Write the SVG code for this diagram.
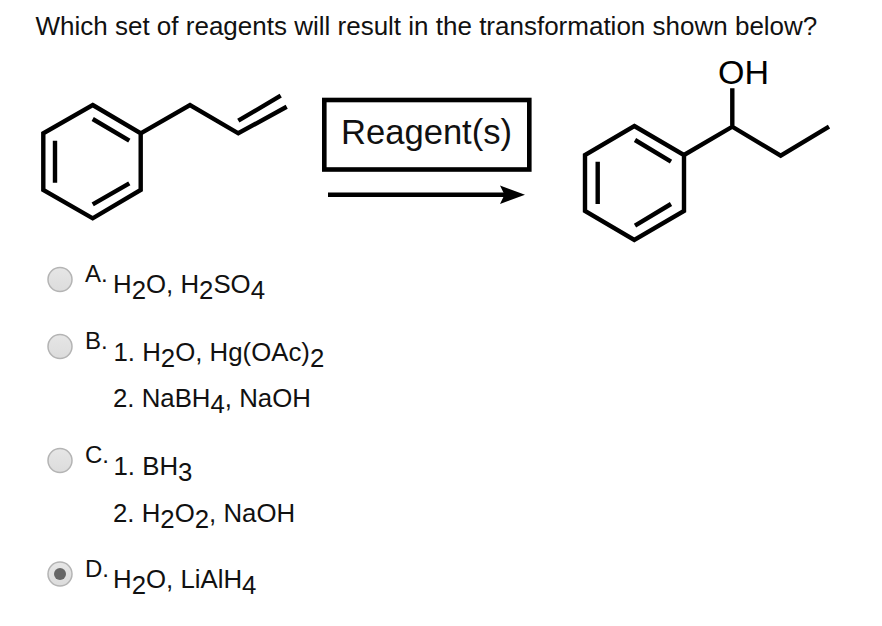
<svg xmlns="http://www.w3.org/2000/svg" width="882" height="626" viewBox="0 0 882 626">
<style>
text{font-family:"Liberation Sans",Arial,sans-serif;fill:#111}
.q{font-size:26px}
.l{font-size:24px}
.o{font-size:25.8px}
.bond{fill:none;stroke:#000;stroke-width:4.4;stroke-linejoin:miter;stroke-linecap:butt}
.radio{fill:url(#rg);stroke:#b4b4b4;stroke-width:1.5}
.mol{font-size:34px;fill:#000}
</style>
<defs>
<linearGradient id="rg" x1="0" y1="0" x2="0" y2="1"><stop offset="0" stop-color="#e6e6e6"/><stop offset="1" stop-color="#dcdcdc"/></linearGradient>
</defs>
<rect width="882" height="626" fill="#fff"/>
<text id="question" class="q" x="35.5" y="35">Which set of reagents will result in the transformation shown below?</text>
<g id="reactant">
<path class="bond" d="M92.7 105L140.7 133.3V190L92.7 218.3L43.3 190V133.3Z"/>
<path class="bond" d="M92.7 119L129.3 140.7M55 140.7V182.7M92.7 204.3L129.3 183.3"/>
<path class="bond" d="M140.7 133.3L190 105L238.3 133.3L286.7 106.7M238.3 120.7L280.7 95.7"/>
</g>
<g id="reagent-box">
<rect x="324.3" y="100" width="205" height="69.5" fill="#fff" stroke="#000" stroke-width="4.6"/>
<text x="341" y="143.5" style="font-size:34.6px">Reagent(s)</text>
</g>
<g id="connectors">
<path d="M328 194.7H505" fill="none" stroke="#000" stroke-width="4.4"/>
<path d="M500 185.5L525 194.7L500 204L504.5 194.7Z" fill="#000"/>
</g>
<g id="product">
<path class="bond" d="M634.3 126L684 155V211L634.3 240L585 211V155Z"/>
<path class="bond" d="M635 140L671 161.7M597.7 161.7V204M635 225.7L671 204"/>
<path class="bond" d="M684 155L732.3 126.7L780.7 155.7L829 126.7M732.3 126.7V88.3"/>
<text class="mol" x="718" y="84">OH</text>
</g>
<g id="option-a">
<circle class="radio" cx="60" cy="279.5" r="12"/>
<text class="l" x="85" y="282">A.</text>
<text class="o" x="113" y="293">H<tspan dy="6">2</tspan><tspan dy="-6">O, H</tspan><tspan dy="6">2</tspan><tspan dy="-6">SO</tspan><tspan dy="6">4</tspan></text>
</g>
<g id="option-b">
<circle class="radio" cx="60" cy="346.5" r="12"/>
<text class="l" x="85" y="349">B.</text>
<text class="o" x="113.5" y="361">1. H<tspan dy="6">2</tspan><tspan dy="-6">O, Hg(OAc)</tspan><tspan dy="6">2</tspan></text>
<text class="o" x="113" y="407">2. NaBH<tspan dy="6">4</tspan><tspan dy="-6">, NaOH</tspan></text>
</g>
<g id="option-c">
<circle class="radio" cx="60" cy="460.5" r="12"/>
<text class="l" x="85" y="463">C.</text>
<text class="o" x="113.5" y="475">1. BH<tspan dy="6">3</tspan></text>
<text class="o" x="113" y="521.5">2. H<tspan dy="6">2</tspan><tspan dy="-6">O</tspan><tspan dy="6">2</tspan><tspan dy="-6">, NaOH</tspan></text>
</g>
<g id="option-d">
<circle class="radio" cx="60" cy="574" r="12"/>
<circle cx="60" cy="574" r="6" fill="#666"/>
<text class="l" x="85" y="577">D.</text>
<text class="o" x="113" y="588">H<tspan dy="6">2</tspan><tspan dy="-6">O, LiAlH</tspan><tspan dy="6">4</tspan></text>
</g>
</svg>
